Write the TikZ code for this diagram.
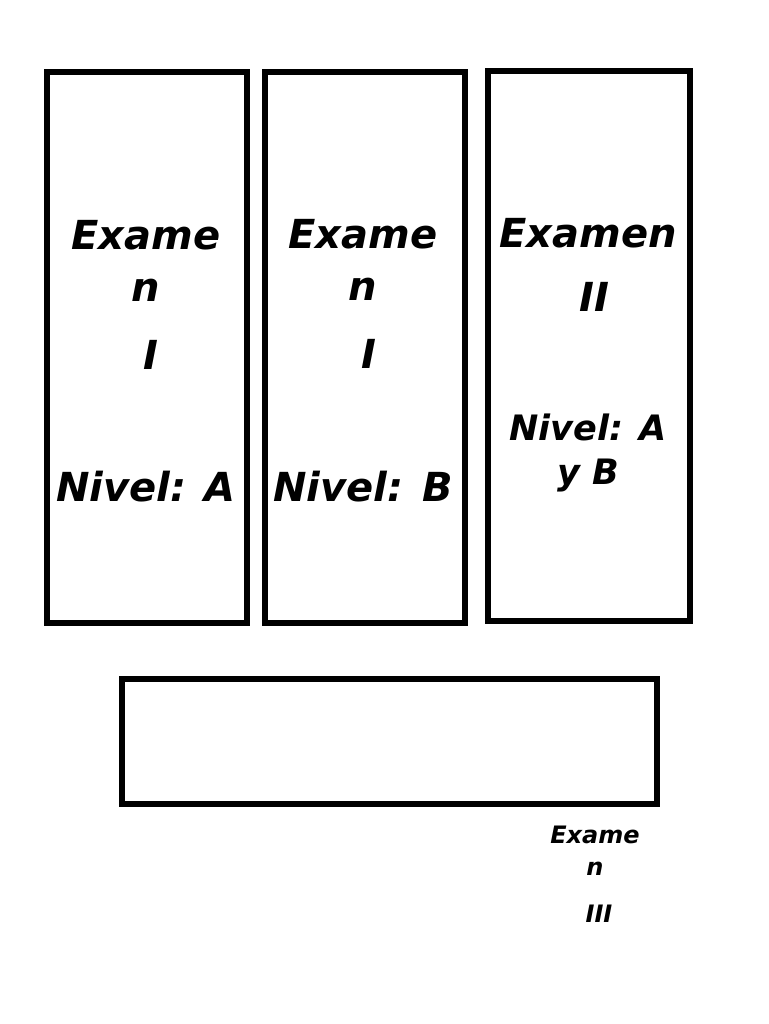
\documentclass[tikz,border=0pt]{standalone}
\usepackage{fontspec}
\setmainfont{DejaVu Sans}
\begin{document}
\begin{tikzpicture}[x=1pt,y=-1pt,
  box/.style={draw,line width=6pt},
  big/.style={font=\fontsize{40}{44}\selectfont\bfseries\itshape,inner sep=0},
  mid/.style={font=\fontsize{35}{40}\selectfont\bfseries\itshape,inner sep=0},
  small/.style={font=\fontsize{24}{28}\selectfont\bfseries\itshape,inner sep=0}]
\useasboundingbox (0,0) rectangle (768,1024);
\draw[box] (47,72) rectangle (247,623);
\draw[box] (265,72) rectangle (465,623);
\draw[box] (488,71) rectangle (690,621);
\draw[box] (122,679) rectangle (657,804);
\node[big] (a1) at (146,235) {Exame};
\node[big] (a2) at (146,290) {n};
\node[big] (a3) at (151,355) {I};
\node[big] (a4) at (146,487) {Nivel: A};
\node[big] (b1) at (363,234) {Exame};
\node[big] (b2) at (363,289) {n};
\node[big] (b3) at (369,354) {I};
\node[big] (b4) at (363,487) {Nivel: B};
\node[big] (c1) at (588,233) {Examen};
\node[big] (c2) at (594,297) {II};
\node[mid] (c3) at (588,427) {Nivel: A};
\node[mid] (c4) at (588,476) {y B};
\node[small] (d1) at (595,835) {Exame};
\node[small] (d2) at (595,869) {n};
\node[small] (d3) at (599,914) {III};
\end{tikzpicture}
\end{document}
